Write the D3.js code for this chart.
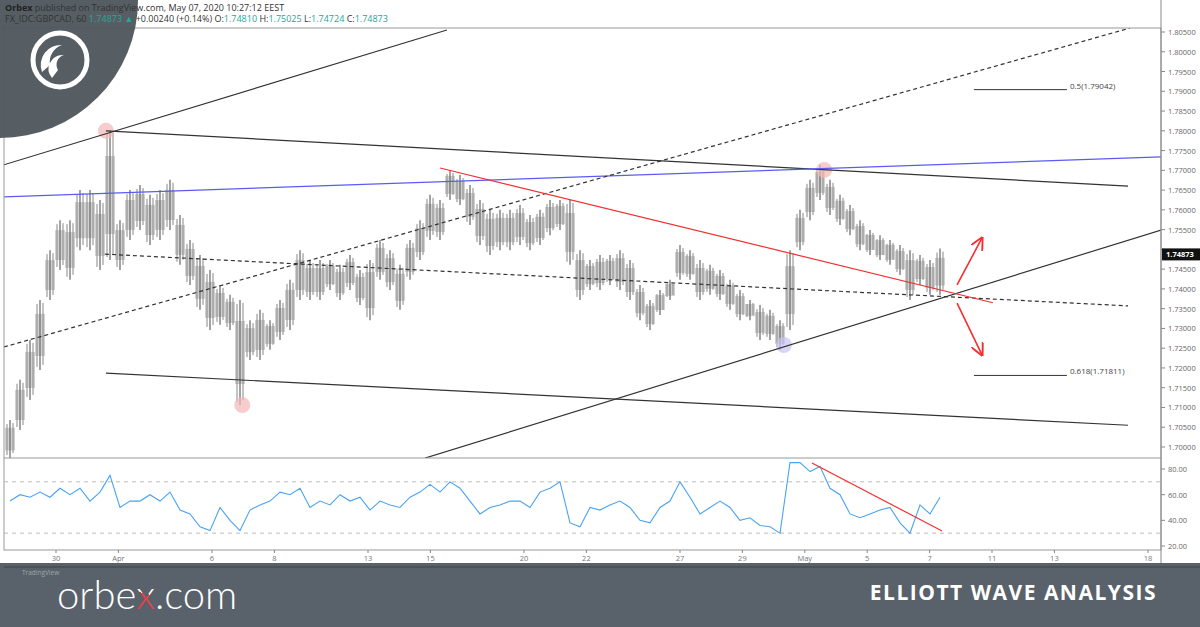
<!DOCTYPE html><html><head><meta charset="utf-8"><script src="https://cdn.jsdelivr.net/npm/d3@7"></script>
<style>body{margin:0;background:#fff}svg{display:block;font-family:"Open Sans",sans-serif}</style></head><body><svg id="c" width="1200" height="627"></svg><script>
const highs=[1.7068,1.7170,1.7271,1.7372,1.7498,1.7574,1.7574,1.7650,1.7650,1.7625,1.7802,1.7574,1.7650,1.7663,1.7638,1.7650,1.7676,1.7587,1.7524,1.7486,1.7448,1.7410,1.7385,1.7372,1.7321,1.7347,1.7321,1.7372,1.7423,1.7498,1.7473,1.7473,1.7473,1.7461,1.7486,1.7448,1.7473,1.7524,1.7498,1.7461,1.7524,1.7574,1.7638,1.7625,1.7701,1.7688,1.7663,1.7625,1.7600,1.7600,1.7600,1.7612,1.7587,1.7600,1.7625,1.7625,1.7625,1.7498,1.7473,1.7486,1.7486,1.7498,1.7473,1.7410,1.7372,1.7397,1.7423,1.7511,1.7498,1.7473,1.7461,1.7448,1.7423,1.7397,1.7372,1.7359,1.7347,1.7321,1.7498,1.7600,1.7676,1.7714,1.7676,1.7638,1.7612,1.7574,1.7549,1.7536,1.7524,1.7511,1.7498,1.7486,1.7473,1.7502];
const lows=[1.6972,1.7043,1.7119,1.7195,1.7372,1.7448,1.7423,1.7498,1.7498,1.7448,1.7473,1.7448,1.7524,1.7549,1.7511,1.7524,1.7549,1.7461,1.7410,1.7347,1.7296,1.7309,1.7296,1.7106,1.7220,1.7220,1.7246,1.7271,1.7296,1.7372,1.7372,1.7372,1.7397,1.7372,1.7397,1.7359,1.7321,1.7423,1.7397,1.7347,1.7423,1.7473,1.7524,1.7524,1.7625,1.7612,1.7562,1.7511,1.7486,1.7498,1.7498,1.7511,1.7498,1.7511,1.7536,1.7549,1.7461,1.7372,1.7397,1.7397,1.7410,1.7397,1.7372,1.7321,1.7296,1.7334,1.7372,1.7423,1.7423,1.7372,1.7385,1.7372,1.7347,1.7321,1.7321,1.7271,1.7271,1.7246,1.7296,1.7498,1.7574,1.7625,1.7587,1.7562,1.7536,1.7498,1.7486,1.7473,1.7461,1.7435,1.7372,1.7410,1.7385,1.7385];
const rsi=[55,60,58,62,58,65,60,65,55,62,75,50,55,55,60,55,62,48,45,35,32,50,40,32,48,52,55,62,60,65,50,55,52,60,55,58,48,55,52,50,58,62,68,62,70,65,55,45,50,52,55,55,50,62,65,70,38,35,50,48,52,55,50,40,38,50,55,70,58,45,50,55,50,40,42,36,35,30,85,85,78,82,65,60,45,42,45,48,50,38,30,52,45,58];
const dayTicks=[0,2,5,7,10,12,15,17,20,22,24,26,28,30,32,35];
const dayLabels=["30","Apr","6","8","13","15","20","22","27","29","May","5","7","11","13","18"];
const priceTicks=[1.805,1.80,1.795,1.79,1.785,1.78,1.775,1.77,1.765,1.76,1.755,1.75,1.745,1.74,1.735,1.73,1.725,1.72,1.715,1.71,1.705,1.70];
const rsiTicks=[80,60,40,20];
const lines=[ // [d1,p1,d2,p2,color,dash]
 [-1.67,1.7714,12.53,1.8055,"#333",""],
 [1.60,1.7800,34.36,1.7660,"#333",""],
 [1.60,1.7187,34.36,1.7055,"#333",""],
 [-1.67,1.7633,35.42,1.7734,"#5b5bf0",""],
 [-1.67,1.7253,34.42,1.8060,"#333","4,3"],
 [1.57,1.7488,34.36,1.7357,"#333","4,3"],
 [11.83,1.6972,35.42,1.7549,"#333",""],
 [12.31,1.7706,30.03,1.7365,"#f23030",""]];
const arrows=[[28.88,1.7410,29.68,1.7529],[28.88,1.7364,29.68,1.7233]];
const fibs=[[29.42,32.40,1.79042,"0.5(1.79042)"],[29.42,32.40,1.71811,"0.618(1.71811)"]];
const marks=[[1.60,1.7800,"#f4b6b6"],[5.97,1.7106,"#f4b6b6"],[24.62,1.7701,"#f4b6b6"],[23.33,1.7258,"#c4c4f4"]];
const rsiLine=[24.23,84.7,28.4,31.7];

const svg=d3.select("#c");
const x=d3.scaleLinear().domain([0,35]).range([56,1148]);
const y=d3.scaleLinear().domain([1.70,1.805]).range([447,32]);
const yr=d3.scaleLinear().domain([20,80]).range([546,469]);
const t=i=>x.invert(10+10*i);
const defs=svg.append("defs");
defs.append("clipPath").attr("id","cp").append("rect").attr("x",4).attr("y",28).attr("width",1157).attr("height",430);
const gr=defs.append("linearGradient").attr("id","xg").attr("x1","0").attr("y1","1").attr("x2","1").attr("y2","0");
gr.append("stop").attr("offset","0.5").attr("stop-color","#e8404f");gr.append("stop").attr("offset","0.5").attr("stop-color","#fff");
const pc=svg.append("g").attr("clip-path","url(#cp)");
svg.append("rect").attr("x",4).attr("y",28).attr("width",1157).attr("height",522).attr("fill","none").attr("stroke","#999").attr("stroke-width",1);
svg.append("line").attr("x1",4).attr("x2",1161).attr("y1",458).attr("y2",458).attr("stroke","#999");
highs.forEach((h,i)=>{const xx=x(t(i)), yl=y(lows[i]), yh=y(h);
 pc.append("rect").attr("x",xx-5).attr("width",10).attr("y",yh+(yl-yh)*0.2).attr("height",(yl-yh)*0.6).attr("fill","#9a9a9a").attr("opacity",0.45);
 pc.append("line").attr("x1",xx).attr("x2",xx).attr("y1",yh).attr("y2",yl).attr("stroke","#666").attr("stroke-width",1.2);
 pc.append("line").attr("x1",xx-3).attr("x2",xx-3).attr("y1",yh+4).attr("y2",yl-3).attr("stroke","#888").attr("stroke-width",1);
 pc.append("line").attr("x1",xx+3).attr("x2",xx+3).attr("y1",yh+3).attr("y2",yl-5).attr("stroke","#888").attr("stroke-width",1);
});
marks.forEach(m=>pc.append("circle").attr("cx",x(m[0])).attr("cy",y(m[1])).attr("r",8).attr("fill",m[2]).attr("opacity",0.7));
lines.forEach(l=>pc.append("line").attr("x1",x(l[0])).attr("y1",y(l[1])).attr("x2",x(l[2])).attr("y2",y(l[3])).attr("stroke",l[4]).attr("stroke-width",1.2).attr("stroke-dasharray",l[5]));
defs.append("marker").attr("id","ah").attr("viewBox","0 0 10 10").attr("refX",9).attr("refY",5).attr("markerWidth",8).attr("markerHeight",8).attr("orient","auto").append("path").attr("d","M0,0L10,5L0,10").attr("fill","none").attr("stroke","#f23030").attr("stroke-width",1.5);
arrows.forEach(a=>svg.append("line").attr("x1",x(a[0])).attr("y1",y(a[1])).attr("x2",x(a[2])).attr("y2",y(a[3])).attr("stroke","#f23030").attr("stroke-width",1.6).attr("marker-end","url(#ah)"));
fibs.forEach(f=>{svg.append("line").attr("x1",x(f[0])).attr("x2",x(f[1])).attr("y1",y(f[2])).attr("y2",y(f[2])).attr("stroke","#333");
 svg.append("text").attr("x",x(f[1])+3).attr("y",y(f[2])-1).attr("font-size",8).attr("fill","#444").text(f[3]);});
[70,30].forEach(v=>svg.append("line").attr("x1",4).attr("x2",1161).attr("y1",yr(v)).attr("y2",yr(v)).attr("stroke","#bbb").attr("stroke-dasharray","4,4"));
svg.append("path").datum(rsi).attr("fill","none").attr("stroke","#4aa3f0").attr("stroke-width",1.1)
 .attr("d",d3.line().x((d,i)=>x(t(i))).y(d=>yr(d)));
svg.append("line").attr("x1",x(rsiLine[0])).attr("y1",yr(rsiLine[1])).attr("x2",x(rsiLine[2])).attr("y2",yr(rsiLine[3])).attr("stroke","#f23030").attr("stroke-width",1.2);
priceTicks.forEach(p=>{svg.append("line").attr("x1",1161).attr("x2",1165).attr("y1",y(p)).attr("y2",y(p)).attr("stroke","#888");
 if(Math.abs(p-1.75)>1e-6) svg.append("text").attr("x",1168).attr("y",y(p)+3).attr("font-size",7.5).attr("fill","#666").text(p.toFixed(5));});
rsiTicks.forEach(p=>{svg.append("line").attr("x1",1161).attr("x2",1165).attr("y1",yr(p)).attr("y2",yr(p)).attr("stroke","#888");
 svg.append("text").attr("x",1168).attr("y",yr(p)+3).attr("font-size",7.5).attr("fill","#666").text(p.toFixed(2));});
svg.append("rect").attr("x",1162).attr("y",y(1.74873)-6).attr("width",38).attr("height",12).attr("fill","#111");
svg.append("text").attr("x",1166).attr("y",y(1.74873)+3).attr("font-size",7.5).attr("font-weight","bold").attr("fill","#fff").text("1.74873");
svg.append("line").attr("x1",1161).attr("x2",1161).attr("y1",0).attr("y2",567).attr("stroke","#888");
svg.append("rect").attr("x",0).attr("y",563).attr("width",1200).attr("height",64).attr("fill","#59616a");
svg.append("line").attr("x1",4).attr("x2",1200).attr("y1",567).attr("y2",567).attr("stroke","#444");
dayTicks.forEach((d,i)=>{svg.append("line").attr("x1",x(d)).attr("x2",x(d)).attr("y1",550).attr("y2",553).attr("stroke","#888");
 svg.append("text").attr("x",x(d)).attr("y",561).attr("text-anchor","middle").attr("font-size",7.5).attr("fill","#777").text(dayLabels[i]);});
svg.append("text").attr("x",57).attr("y",609).attr("font-size",40).attr("font-family","Lato").attr("font-weight",300).attr("fill","#fff").html('orbe<tspan fill="url(#xg)">x</tspan>.com');
svg.append("text").attr("x",1157).attr("y",600).attr("text-anchor","end").attr("font-size",21).attr("font-weight","bold").attr("letter-spacing",1.5).attr("fill","#fff").text("ELLIOTT WAVE ANALYSIS");
svg.append("text").attr("x",22).attr("y",575).attr("font-size",6.5).attr("fill","#9aa").text("TradingView");
svg.append("path").attr("d",d3.arc()({innerRadius:0,outerRadius:138,startAngle:Math.PI/2,endAngle:Math.PI})).attr("fill","#4d555b").attr("opacity",0.95);
svg.append("circle").attr("cx",60).attr("cy",60).attr("r",27).attr("fill","none").attr("stroke","#fff").attr("stroke-width",5);
svg.append("path").attr("d","M42,72 A20,20 0 0 1 62,45 A18,18 0 0 0 50,65 Z").attr("fill","#fff");
svg.append("path").attr("d","M52,78 A14,14 0 0 1 64,55 A10,10 0 0 0 58,70 Z").attr("fill","#fff");
svg.append("text").attr("x",5).attr("y",11).attr("font-size",9).attr("fill","#333").html('<tspan font-weight="bold" fill="#222">Orbex</tspan> published on TradingView.com, May 07, 2020 10:27:12 EEST');
svg.append("text").attr("x",5).attr("y",22).attr("font-size",9).attr("fill","#333").html('FX_IDC:GBPCAD, 60 <tspan fill="#26a69a">1.74873 ▲</tspan> +0.00240 (+0.14%) O:<tspan fill="#26a69a">1.74810</tspan> H:<tspan fill="#26a69a">1.75025</tspan> L:<tspan fill="#26a69a">1.74724</tspan> C:<tspan fill="#26a69a">1.74873</tspan>');
</script></body></html>
